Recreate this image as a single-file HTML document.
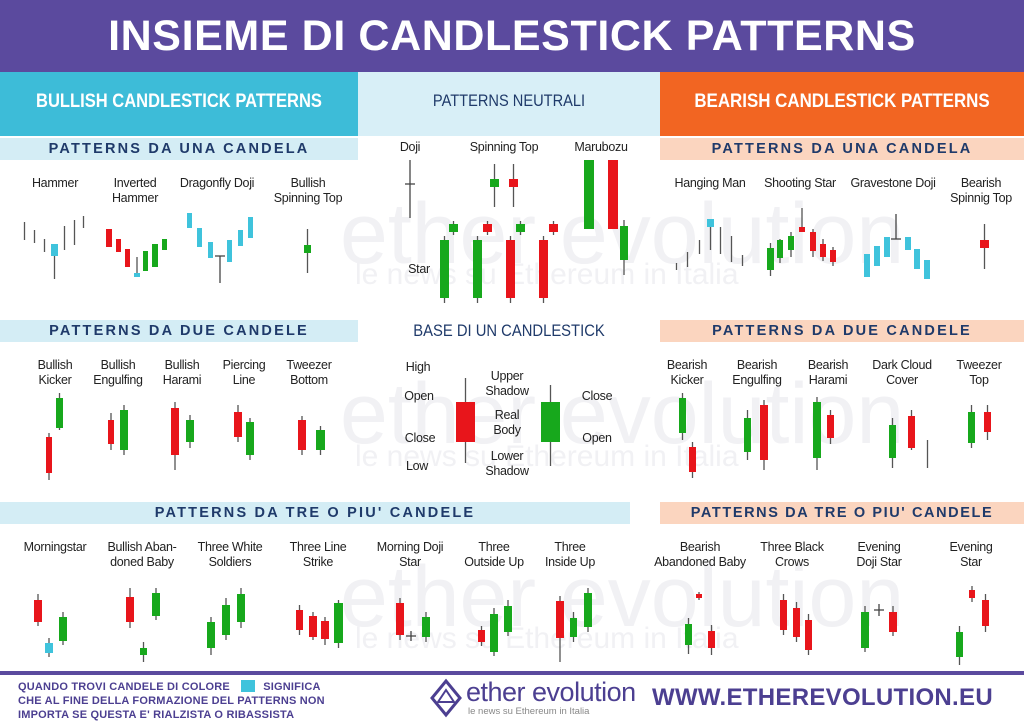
<!DOCTYPE html>
<html><head><meta charset="utf-8">
<style>
*{margin:0;padding:0;box-sizing:border-box}
body{width:1024px;height:724px;overflow:hidden;background:#fff;font-family:"Liberation Sans",sans-serif;position:relative}
.a{position:absolute}
.lab{position:absolute;font-size:12.5px;color:#222;text-align:center;line-height:15px;transform:translateX(-50%);white-space:nowrap;letter-spacing:-0.3px}
.sub{position:absolute;height:22px;font-weight:bold;font-size:14.5px;color:#1f3a6a;text-align:center;line-height:22px;letter-spacing:2.2px}
.wm{position:absolute;color:#f1f1f4;white-space:nowrap}
svg{position:absolute;left:0;top:0}
</style></head><body>
<div class="wm" style="left:340px;top:185px;font-size:86px">ether evolution</div>
<div class="wm" style="left:355px;top:258px;font-size:30px">le news su Ethereum in Italia</div>
<div class="wm" style="left:340px;top:365px;font-size:86px">ether evolution</div>
<div class="wm" style="left:355px;top:440px;font-size:30px">le news su Ethereum in Italia</div>
<div class="wm" style="left:340px;top:548px;font-size:86px">ether evolution</div>
<div class="wm" style="left:355px;top:622px;font-size:30px">le news su Ethereum in Italia</div>

<div class="a" style="left:0;top:0;width:1024px;height:72px;background:#5b4a9e"></div>
<div class="a" style="left:0;top:6px;width:1024px;text-align:center;color:#fff;font-weight:bold;font-size:43px;letter-spacing:0.6px;line-height:60px">INSIEME DI CANDLESTICK PATTERNS</div>
<div class="a" style="left:0;top:72px;width:358px;height:64px;background:#3dbcd8"></div>
<div class="a" style="left:0;top:72px;width:358px;color:#fff;font-weight:bold;font-size:19px;text-align:center;line-height:60px;transform:scaleX(0.87)">BULLISH CANDLESTICK PATTERNS</div>
<div class="a" style="left:358px;top:72px;width:302px;height:64px;background:#d8eff7"></div>
<div class="a" style="left:358px;top:72px;width:302px;color:#1f3a6a;font-size:17px;text-align:center;line-height:58px;transform:scaleX(0.86)">PATTERNS NEUTRALI</div>
<div class="a" style="left:660px;top:72px;width:364px;height:64px;background:#f26522"></div>
<div class="a" style="left:660px;top:72px;width:364px;color:#fff;font-weight:bold;font-size:19px;text-align:center;line-height:60px;transform:scaleX(0.89)">BEARISH CANDLESTICK PATTERNS</div>

<div class="sub" style="left:0;top:138px;width:358px;background:#d4edf5">PATTERNS DA UNA CANDELA</div>
<div class="sub" style="left:660px;top:138px;width:364px;background:#fbd5bf">PATTERNS DA UNA CANDELA</div>
<div class="sub" style="left:0;top:320px;width:358px;background:#d4edf5">PATTERNS DA DUE CANDELE</div>
<div class="sub" style="left:660px;top:320px;width:364px;background:#fbd5bf">PATTERNS DA DUE CANDELE</div>
<div class="a" style="left:358px;top:320px;width:302px;text-align:center;font-size:17px;color:#1f3a6a;line-height:22px;transform:scaleX(0.87)">BASE DI UN CANDLESTICK</div>
<div class="sub" style="left:0;top:502px;width:630px;background:#d4edf5">PATTERNS DA TRE O PIU' CANDELE</div>
<div class="sub" style="left:660px;top:502px;width:364px;background:#fbd5bf;letter-spacing:1.6px">PATTERNS DA TRE O PIU' CANDELE</div>

<div class="lab" style="left:55px;top:176px">Hammer</div>
<div class="lab" style="left:135px;top:176px">Inverted<br>Hammer</div>
<div class="lab" style="left:217px;top:176px">Dragonfly Doji</div>
<div class="lab" style="left:308px;top:176px">Bullish<br>Spinning Top</div>
<div class="lab" style="left:410px;top:140px">Doji</div>
<div class="lab" style="left:504px;top:140px">Spinning Top</div>
<div class="lab" style="left:601px;top:140px">Marubozu</div>
<div class="lab" style="left:419px;top:262px">Star</div>
<div class="lab" style="left:710px;top:176px">Hanging Man</div>
<div class="lab" style="left:800px;top:176px">Shooting Star</div>
<div class="lab" style="left:893px;top:176px">Gravestone Doji</div>
<div class="lab" style="left:981px;top:176px">Bearish<br>Spinnig Top</div>

<div class="lab" style="left:55px;top:358px">Bullish<br>Kicker</div>
<div class="lab" style="left:118px;top:358px">Bullish<br>Engulfing</div>
<div class="lab" style="left:182px;top:358px">Bullish<br>Harami</div>
<div class="lab" style="left:244px;top:358px">Piercing<br>Line</div>
<div class="lab" style="left:309px;top:358px">Tweezer<br>Bottom</div>
<div class="lab" style="left:418px;top:360px">High</div>
<div class="lab" style="left:419px;top:389px">Open</div>
<div class="lab" style="left:420px;top:431px">Close</div>
<div class="lab" style="left:417px;top:459px">Low</div>
<div class="lab" style="left:507px;top:369px">Upper<br>Shadow</div>
<div class="lab" style="left:507px;top:408px">Real<br>Body</div>
<div class="lab" style="left:507px;top:449px">Lower<br>Shadow</div>
<div class="lab" style="left:597px;top:389px">Close</div>
<div class="lab" style="left:597px;top:431px">Open</div>
<div class="lab" style="left:687px;top:358px">Bearish<br>Kicker</div>
<div class="lab" style="left:757px;top:358px">Bearish<br>Engulfing</div>
<div class="lab" style="left:828px;top:358px">Bearish<br>Harami</div>
<div class="lab" style="left:902px;top:358px">Dark Cloud<br>Cover</div>
<div class="lab" style="left:979px;top:358px">Tweezer<br>Top</div>

<div class="lab" style="left:55px;top:540px">Morningstar</div>
<div class="lab" style="left:142px;top:540px">Bullish Aban-<br>doned Baby</div>
<div class="lab" style="left:230px;top:540px">Three White<br>Soldiers</div>
<div class="lab" style="left:318px;top:540px">Three Line<br>Strike</div>
<div class="lab" style="left:410px;top:540px">Morning Doji<br>Star</div>
<div class="lab" style="left:494px;top:540px">Three<br>Outside Up</div>
<div class="lab" style="left:570px;top:540px">Three<br>Inside Up</div>
<div class="lab" style="left:700px;top:540px">Bearish<br>Abandoned Baby</div>
<div class="lab" style="left:792px;top:540px">Three Black<br>Crows</div>
<div class="lab" style="left:879px;top:540px">Evening<br>Doji Star</div>
<div class="lab" style="left:971px;top:540px">Evening<br>Star</div>

<svg id="s" width="1024" height="724"></svg>

<div class="a" style="left:0;top:671px;width:1024px;height:4px;background:#5b4a9e"></div>
<div class="a" style="left:18px;top:680px;font-size:11px;font-weight:bold;color:#4c3f91;line-height:14px;letter-spacing:0.2px">QUANDO TROVI CANDELE DI COLORE <span style="display:inline-block;width:14px;height:12px;background:#3fc3dc;vertical-align:-2px;margin:0 8px"></span>SIGNIFICA<br>CHE AL FINE DELLA FORMAZIONE DEL PATTERNS NON<br>IMPORTA SE QUESTA E' RIALZISTA O RIBASSISTA</div>
<svg width="1024" height="724" style="pointer-events:none"><polygon points="446,681 460,698 446,715 432,698" fill="none" stroke="#4c3f91" stroke-width="3"/><polygon points="446,690 454,702 438,702" fill="none" stroke="#4c3f91" stroke-width="2"/></svg>
<div class="a" style="left:466px;top:677px;font-size:27px;color:#4c3f91;line-height:30px;letter-spacing:-0.5px">ether evolution</div>
<div class="a" style="left:468px;top:706px;font-size:9.5px;color:#888;line-height:12px">le news su Ethereum in Italia</div>
<div class="a" style="left:652px;top:684px;font-size:24px;font-weight:bold;color:#4c3f91;line-height:28px;letter-spacing:0.3px">WWW.ETHEREVOLUTION.EU</div>

<script>
var G='#17a81c',R='#e8151b',C='#3fc3dc',K='#444';
var c=[
[24,24,222,240,0,0,K],[34,34,230,243,0,0,K],[44,44,239,252,0,0,K],[51,57,279,0,244,256,C],[64,64,226,250,0,0,K],[74,74,220,245,0,0,K],[83,83,216,228,0,0,K],
[106,111,0,0,229,247,R],[116,120,0,0,239,252,R],[125,129,0,0,249,267,R],[134,139,257,277,273,277,C],[143,147,0,0,251,271,G],[152,157,0,0,244,267,G],[162,166,0,0,239,250,G],
[187,191,0,0,213,228,C],[197,201,0,0,228,247,C],[208,212,0,0,242,258,C],[227,231,0,0,240,262,C],[238,242,0,0,230,246,C],[248,252,0,0,217,238,C],
[304,310,229,273,245,253,G],
[490,498,164,207,179,187,G],[509,517,164,207,179,187,R],
[449,457,221,235,224,232,G],[483,491,221,235,224,232,R],[516,524,221,235,224,232,G],[549,557,221,235,224,232,R],
[440,448,236,303,240,298,G],[473,481,236,303,240,298,G],[506,514,236,303,240,298,R],[539,547,236,303,240,298,R],
[584,593,0,0,160,229,G],[608,617,0,0,160,229,R],[620,627,220,275,226,260,G],
[676,676,263,270,0,0,K],[687,687,252,267,0,0,K],[699,699,240,254,0,0,K],[707,713,219,250,219,227,C],[720,720,227,254,0,0,K],[731,731,236,262,0,0,K],[742,742,255,266,0,0,K],
[767,773,243,276,248,270,G],[777,782,239,263,240,258,G],[788,793,232,257,236,250,G],[799,804,208,232,227,232,R],[810,815,229,257,232,251,R],[820,825,239,261,244,257,R],[830,835,247,266,250,262,R],
[864,869,0,0,254,277,C],[874,879,0,0,246,266,C],[884,889,0,0,237,257,C],[905,910,0,0,237,250,C],[914,919,0,0,249,269,C],[924,929,0,0,260,279,C],
[980,988,224,269,240,248,R],
[46,51,433,480,437,473,R],[56,62,393,430,398,428,G],
[108,113,413,450,420,444,R],[120,127,405,455,410,450,G],
[171,178,402,470,408,455,R],[186,193,415,448,420,442,G],
[234,241,405,442,412,437,R],[246,253,418,460,422,455,G],
[298,305,416,455,420,450,R],[316,324,426,455,430,450,G],
[456,474,378,463,402,442,R],[541,559,385,466,402,442,G],
[679,685,393,440,398,433,G],[689,695,442,478,447,472,R],
[744,750,410,460,418,452,G],[760,767,400,470,405,460,R],
[813,820,397,470,402,458,G],[827,833,410,444,415,438,R],
[889,895,418,468,425,458,G],[908,914,410,450,416,448,R],[927,927,440,468,0,0,K],
[968,974,405,448,412,443,G],[984,990,405,440,412,432,R],
[34,41,594,626,600,622,R],[45,52,638,657,643,653,C],[59,66,612,645,617,641,G],
[126,133,588,628,597,622,R],[140,146,642,662,648,655,G],[152,159,588,620,593,616,G],
[207,214,617,655,622,648,G],[222,229,598,640,605,635,G],[237,244,588,628,594,622,G],
[296,302,605,635,610,630,R],[309,316,612,640,616,637,R],[321,328,617,645,621,639,R],[334,342,600,648,603,643,G],
[396,403,598,640,603,635,R],[422,429,612,642,617,637,G],
[478,484,626,646,630,642,R],[490,497,608,656,614,652,G],[504,511,600,636,606,632,G],
[556,563,596,662,601,638,R],[570,576,612,642,618,637,G],[584,591,588,632,593,627,G],
[685,691,618,654,624,645,G],[696,701,592,600,594,598,R],[708,714,625,655,631,648,R],
[780,786,594,635,600,630,R],[793,799,602,642,608,637,R],[805,811,614,655,620,650,R],
[861,868,606,652,612,648,G],[889,896,606,636,612,632,R],
[956,962,626,665,632,657,G],[969,974,586,602,590,598,R],[982,988,594,632,600,626,R]
];
var s='';
c.forEach(function(d){var x1=d[0],x2=d[1],m=(x1+x2)/2;
 if(d[2]||d[3]){var t=d[2],b=d[3]||d[5];s+='<line x1="'+(m+0.5)+'" x2="'+(m+0.5)+'" y1="'+t+'" y2="'+b+'" stroke="#555" stroke-width="1.3"/>';}
 if(d[5])s+='<rect x="'+x1+'" y="'+d[4]+'" width="'+(x2-x1+1)+'" height="'+(d[5]-d[4])+'" fill="'+d[6]+'"/>';});
function dj(x,t,b,h){s+='<line x1="'+x+'" x2="'+x+'" y1="'+t+'" y2="'+b+'" stroke="#444" stroke-width="1.3"/><line x1="'+(x-5)+'" x2="'+(x+5)+'" y1="'+h+'" y2="'+h+'" stroke="#444" stroke-width="1.3"/>';}
dj(220,256,283,256);dj(410,160,218,184);dj(896,214,239,239);dj(411,631,641,636);dj(879,604,616,610);
document.getElementById('s').innerHTML=s;
</script>
</body></html>
